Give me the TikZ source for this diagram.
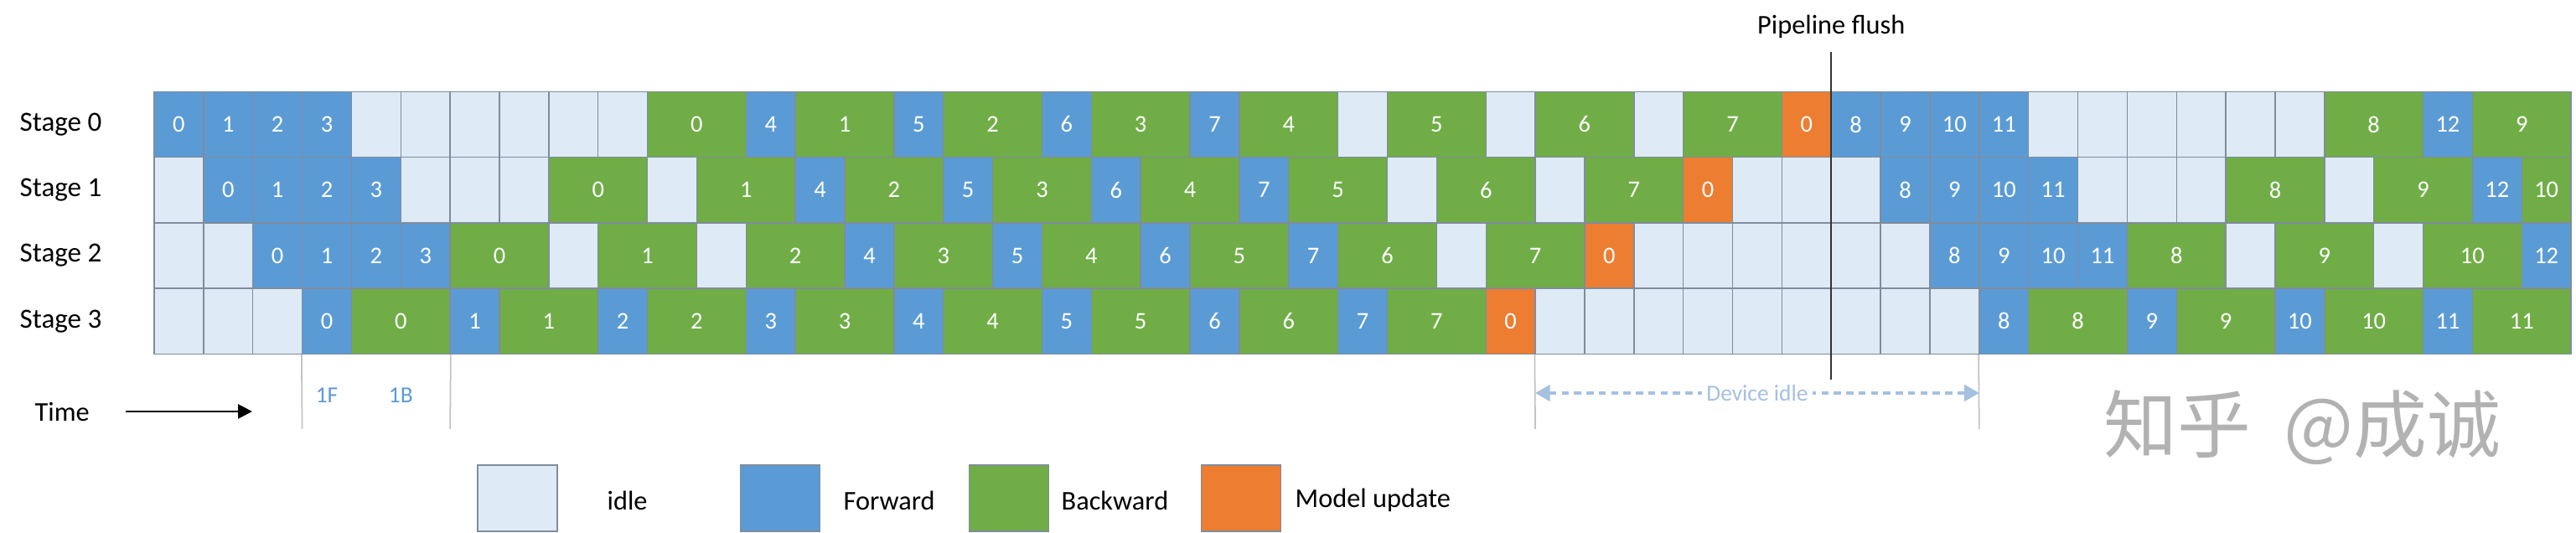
\documentclass[tikz,border=0pt]{standalone}
\usepackage{fontspec}
\setmainfont{Carlito}
\newfontfamily\cjkfont{Noto Sans CJK SC}
\usetikzlibrary{arrows.meta}

\definecolor{idlec}{RGB}{222,235,247}
\definecolor{fwdc}{RGB}{91,155,213}
\definecolor{bwdc}{RGB}{112,173,71}
\definecolor{updc}{RGB}{237,125,49}
\definecolor{edgec}{RGB}{128,140,155}
\definecolor{guidec}{RGB}{195,195,195}
\definecolor{idletxt}{RGB}{165,192,224}
\definecolor{markc}{RGB}{178,178,178}

\newcommand{\cw}{0.5886}
\newcommand{\ch}{0.783}

\begin{document}
\begin{tikzpicture}[
      cell/.style={draw=edgec, line width=0.4pt, inner sep=0pt, minimum height=\ch cm,
        text=white, font=\fontsize{8.1}{9}\selectfont},
      idle/.style={cell, fill=idlec, minimum width=\cw cm},
      stagelabel/.style={anchor=west, inner sep=0pt, font=\fontsize{9.4}{11}\selectfont},
      plain/.style={inner sep=0pt, font=\fontsize{9.2}{11}\selectfont},
      small/.style={inner sep=0pt, font=\fontsize{7.8}{9}\selectfont},
      legendbox/.style={draw=edgec, line width=0.4pt, minimum width=0.95cm, minimum height=0.79cm, inner sep=0pt},
      guide/.style={draw=guidec, line width=0.5pt}
    ]
    \useasboundingbox (0,0) rectangle (30.74,6.36);

    % idle grid under everything
    \foreach \r in {0,...,3}
      \foreach \c in {0,...,48}
        \node[idle] (i\r-\c) at ({1.84+(\c+0.5)*\cw},{5.267-(\r+0.5)*\ch}) {};

    % jobs per stage: first column / columns / colour / micro-batch
    \foreach \r/\jobs in {
      0/{0/1/fwdc/0,1/1/fwdc/1,2/1/fwdc/2,3/1/fwdc/3,10/2/bwdc/0,12/1/fwdc/4,13/2/bwdc/1,15/1/fwdc/5,
         16/2/bwdc/2,18/1/fwdc/6,19/2/bwdc/3,21/1/fwdc/7,22/2/bwdc/4,25/2/bwdc/5,28/2/bwdc/6,31/2/bwdc/7,
         33/1/updc/0,34/1/fwdc/8,35/1/fwdc/9,36/1/fwdc/10,37/1/fwdc/11,44/2/bwdc/8,46/1/fwdc/12,47/2/bwdc/9},
      1/{1/1/fwdc/0,2/1/fwdc/1,3/1/fwdc/2,4/1/fwdc/3,8/2/bwdc/0,11/2/bwdc/1,13/1/fwdc/4,14/2/bwdc/2,
         16/1/fwdc/5,17/2/bwdc/3,19/1/fwdc/6,20/2/bwdc/4,22/1/fwdc/7,23/2/bwdc/5,26/2/bwdc/6,29/2/bwdc/7,
         31/1/updc/0,35/1/fwdc/8,36/1/fwdc/9,37/1/fwdc/10,38/1/fwdc/11,42/2/bwdc/8,45/2/bwdc/9,47/1/fwdc/12,48/1/bwdc/10},
      2/{2/1/fwdc/0,3/1/fwdc/1,4/1/fwdc/2,5/1/fwdc/3,6/2/bwdc/0,9/2/bwdc/1,12/2/bwdc/2,14/1/fwdc/4,
         15/2/bwdc/3,17/1/fwdc/5,18/2/bwdc/4,20/1/fwdc/6,21/2/bwdc/5,23/1/fwdc/7,24/2/bwdc/6,27/2/bwdc/7,
         29/1/updc/0,36/1/fwdc/8,37/1/fwdc/9,38/1/fwdc/10,39/1/fwdc/11,40/2/bwdc/8,43/2/bwdc/9,46/2/bwdc/10,48/1/fwdc/12},
      3/{3/1/fwdc/0,4/2/bwdc/0,6/1/fwdc/1,7/2/bwdc/1,9/1/fwdc/2,10/2/bwdc/2,12/1/fwdc/3,13/2/bwdc/3,
         15/1/fwdc/4,16/2/bwdc/4,18/1/fwdc/5,19/2/bwdc/5,21/1/fwdc/6,22/2/bwdc/6,24/1/fwdc/7,25/2/bwdc/7,
         27/1/updc/0,37/1/fwdc/8,38/2/bwdc/8,40/1/fwdc/9,41/2/bwdc/9,43/1/fwdc/10,44/2/bwdc/10,46/1/fwdc/11,47/2/bwdc/11}}
      \foreach \c/\n/\k/\m in \jobs
        \node[cell, fill=\k, minimum width=\n*\cw cm] (s\r-\c) at ({1.84+(\c+\n/2)*\cw},{5.267-(\r+0.5)*\ch}) {\m};

    % stage names
    \foreach \r in {0,...,3}
      \node[stagelabel] (stage\r) at (0.23,{5.267-(\r+0.5)*\ch}) {Stage \r};

    % time arrow
    \node[plain, anchor=west] (time) at (0.41,1.44) {Time};
    \coordinate (timeS) at (1.50,1.45);
    \coordinate (timeE) at (3.01,1.45);
    \draw[line width=0.8pt, -{Triangle[length=4.8pt, width=4.8pt]}] (timeS) -- (timeE);

    % one forward and one backward
    \coordinate (fbL) at ({1.84+3*\cw},1.24);
    \coordinate (fbR) at ({1.84+6*\cw},1.24);
    \draw[guide] (s3-3.south west) -- (fbL);
    \draw[guide] (s3-4.south east) -- (fbR);
    \node[small, text=fwdc] (oneF) at ({1.84+3.5*\cw},1.64) {1F};
    \node[small, text=fwdc] (oneB) at ({1.84+5*\cw},1.64) {1B};

    % device idle span
    \coordinate (idleL) at ({1.84+28*\cw},1.24);
    \coordinate (idleR) at ({1.84+37*\cw},1.24);
    \draw[guide] (i3-28.south west) -- (idleL);
    \draw[guide] (s3-37.south west) -- (idleR);
    \coordinate (idleAL) at ({1.84+28*\cw},1.67);
    \coordinate (idleAR) at ({1.84+37*\cw},1.67);
    \draw[idletxt, line width=0.9pt, dash pattern=on 2.4pt off 1.8pt,
      {Triangle[length=5pt, width=5.5pt]}-{Triangle[length=5pt, width=5.5pt]}] (idleAL) -- (idleAR);
    \node[small, fill=white, inner xsep=1.5pt, text=idletxt] (idletag) at ({1.84+32.5*\cw},1.67) {Device idle};

    % pipeline flush
    \node[plain] (flush) at ({1.84+34*\cw},6.04) {Pipeline flush};
    \coordinate (flushT) at ({1.84+34*\cw},5.74);
    \coordinate (flushB) at ({1.84+34*\cw},1.83);
    \draw[line width=0.5pt, black!80] (flushT) -- (flushB);

    % legend
    \node[legendbox, fill=idlec] (lgIdle) at (6.175,0.415) {};
    \node[plain, anchor=west] (lgIdleT) at (7.24,0.39) {idle};
    \node[legendbox, fill=fwdc] (lgFwd) at (9.31,0.415) {};
    \node[plain, anchor=west] (lgFwdT) at (10.06,0.39) {Forward};
    \node[legendbox, fill=bwdc] (lgBwd) at (12.04,0.415) {};
    \node[plain, anchor=west] (lgBwdT) at (12.66,0.39) {Backward};
    \node[legendbox, fill=updc] (lgUpd) at (14.81,0.415) {};
    \node[plain, anchor=west] (lgUpdT) at (15.45,0.39) {Model update};

    % watermark
    \node[inner sep=0pt, anchor=west, text=markc, font=\cjkfont\fontsize{25}{27}\selectfont] (mark) at (25.10,1.26) {知乎\ \ @成诚};
\end{tikzpicture}
\end{document}
